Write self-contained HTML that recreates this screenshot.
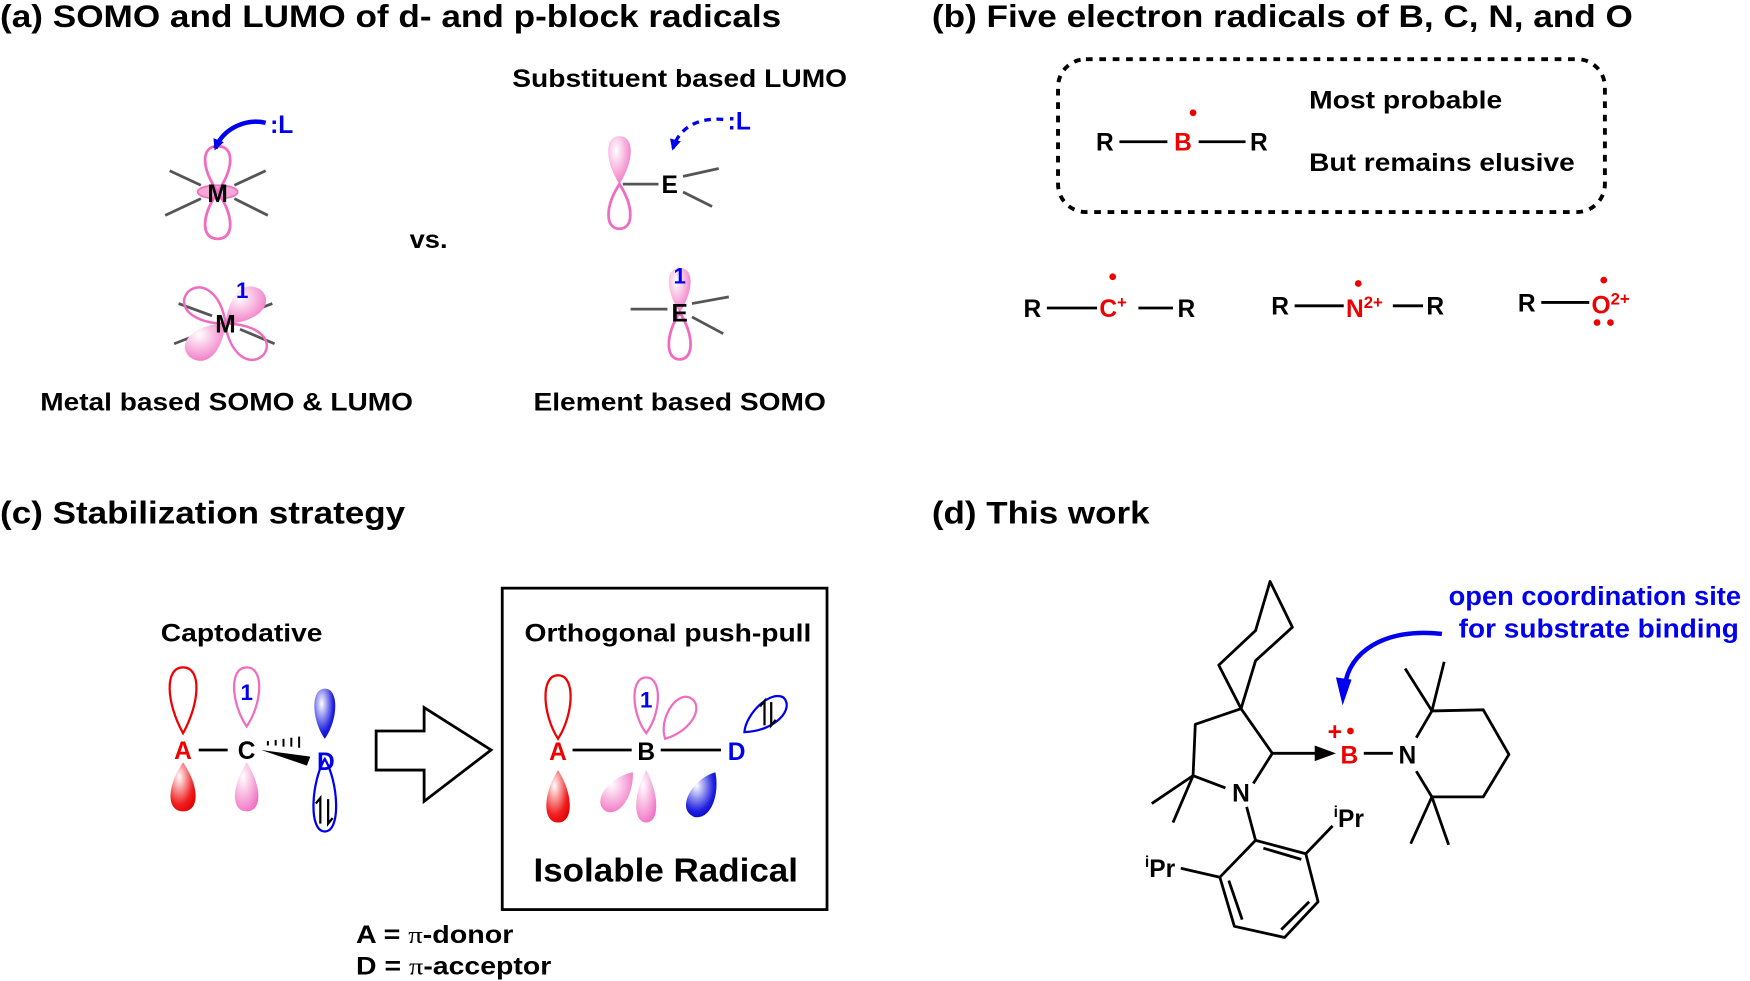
<!DOCTYPE html>
<html><head><meta charset="utf-8"><style>
html,body{margin:0;padding:0;background:#fff;}
svg{display:block;}
text{font-family:"Liberation Sans",Arial,sans-serif;font-weight:bold;}
</style></head><body>
<svg width="1750" height="981" viewBox="0 0 1568 879" xmlns="http://www.w3.org/2000/svg">
<defs>
<radialGradient id="pk" cx="0.35" cy="0.3" r="0.8"><stop offset="0" stop-color="#fff"/><stop offset="1" stop-color="#f06cc0"/></radialGradient>
<radialGradient id="rd" cx="0.35" cy="0.3" r="0.8"><stop offset="0" stop-color="#fff"/><stop offset="0.7" stop-color="#f02020"/><stop offset="1" stop-color="#e00000"/></radialGradient>
<radialGradient id="bl" cx="0.35" cy="0.3" r="0.8"><stop offset="0" stop-color="#fff"/><stop offset="0.7" stop-color="#2020e0"/><stop offset="1" stop-color="#0000c0"/></radialGradient>
<marker id="ah" markerWidth="10" markerHeight="10" refX="8" refY="5" orient="auto" markerUnits="userSpaceOnUse"><path d="M0,0 L10,5 L0,10z" fill="#0000ee"/></marker>
</defs>
<!-- titles -->
<text x="0" y="24" font-size="28" textLength="700" lengthAdjust="spacingAndGlyphs">(a) SOMO and LUMO of d- and p-block radicals</text>
<text x="835" y="24" font-size="28" textLength="628" lengthAdjust="spacingAndGlyphs">(b) Five electron radicals of B, C, N, and O</text>
<text x="0" y="469" font-size="28" textLength="363" lengthAdjust="spacingAndGlyphs">(c) Stabilization strategy</text>
<text x="835" y="469" font-size="28" textLength="195" lengthAdjust="spacingAndGlyphs">(d) This work</text>

<!-- panel a -->
<g stroke="#555" stroke-width="2.5">
<line x1="152" y1="153" x2="180" y2="166"/><line x1="238" y1="153" x2="210" y2="166"/>
<line x1="148" y1="193" x2="180" y2="178"/><line x1="240" y1="193" x2="210" y2="178"/>
</g>
<ellipse cx="195" cy="172" rx="18" ry="6" fill="#f7a6d8" stroke="#f06cc0" stroke-width="1.5"/>
<path d="M195,172 C180,150 180,131 195,131 C210,131 210,150 195,172 C180,194 180,214 195,214 C210,214 210,194 195,172z" fill="none" stroke="#f06cc0" stroke-width="2.5"/>
<text x="195" y="181" font-size="22" text-anchor="middle">M</text>
<path d="M238,110 C220,106 200,115 193,133" fill="none" stroke="#0000ee" stroke-width="4" marker-end="url(#ah)"/>
<text x="242" y="119" font-size="22" fill="#0000ee">:L</text>
<text x="384" y="222" font-size="22" text-anchor="middle" textLength="34" lengthAdjust="spacingAndGlyphs">vs.</text>
<text x="609" y="78" font-size="22" text-anchor="middle" textLength="300" lengthAdjust="spacingAndGlyphs">Substituent based LUMO</text>
<path d="M555,165 C542,145 541,122 555,122 C569,122 568,145 555,165z" fill="url(#pk)"/>
<path d="M555,165 C542,185 542,205 555,205 C568,205 568,185 555,165z" fill="none" stroke="#f06cc0" stroke-width="2.5"/>
<g stroke="#555" stroke-width="2.5"><line x1="558" y1="165" x2="590" y2="165"/><line x1="612" y1="158" x2="644" y2="151"/><line x1="612" y1="172" x2="638" y2="185"/></g>
<text x="600" y="173" font-size="22" text-anchor="middle">E</text>
<path d="M648,107 C625,105 608,115 603,133" fill="none" stroke="#0000ee" stroke-width="3" stroke-dasharray="6,5" marker-end="url(#ah)"/>
<text x="652" y="116" font-size="22" fill="#0000ee">:L</text>

<g stroke="#555" stroke-width="2.5">
<line x1="160" y1="272" x2="190" y2="283"/><line x1="244" y1="272" x2="215" y2="283"/>
<line x1="156" y1="308" x2="190" y2="295"/><line x1="246" y1="308" x2="215" y2="295"/>
</g>
<path d="M202,290 C205,263 220,250 234,260 C247,272 230,290 202,290z" fill="url(#pk)"/>
<path d="M202,290 C199,317 184,330 170,320 C157,308 174,290 202,290z" fill="url(#pk)"/>
<path d="M202,290 C173,290 158,275 168,262 C180,250 199,263 202,290z" fill="none" stroke="#f06cc0" stroke-width="2.2"/>
<path d="M202,290 C231,290 246,305 236,318 C224,330 205,317 202,290z" fill="none" stroke="#f06cc0" stroke-width="2.2"/>
<text x="202" y="298" font-size="22" text-anchor="middle">M</text>
<text x="217" y="267" font-size="20" fill="#0000ee" font-weight="normal" text-anchor="middle">1</text>
<g stroke="#555" stroke-width="2.5"><line x1="565" y1="277" x2="598" y2="277"/><line x1="620" y1="272" x2="653" y2="266"/><line x1="620" y1="284" x2="648" y2="299"/></g>
<path d="M609,280 C596,260 596,240 609,240 C622,240 622,260 609,280z" fill="url(#pk)"/>
<path d="M609,280 C596,300 596,322 609,322 C622,322 622,300 609,280z" fill="none" stroke="#f06cc0" stroke-width="2.5"/>
<text x="609" y="288" font-size="22" text-anchor="middle">E</text>
<text x="609" y="254" font-size="20" fill="#0000ee" font-weight="normal" text-anchor="middle">1</text>
<text x="36" y="368" font-size="22" textLength="334" lengthAdjust="spacingAndGlyphs">Metal based SOMO &amp; LUMO</text>
<text x="478" y="368" font-size="22" textLength="262" lengthAdjust="spacingAndGlyphs">Element based SOMO</text>

<!-- panel b -->
<rect x="948" y="53" width="490" height="137" rx="25" fill="none" stroke="#000" stroke-width="3.5" stroke-dasharray="6,6"/>
<text x="990" y="135" font-size="22" text-anchor="middle">R</text>
<line x1="1003" y1="127" x2="1046" y2="127" stroke="#000" stroke-width="2.5"/>
<text x="1060" y="135" font-size="22" text-anchor="middle" fill="#e00">B</text>
<circle cx="1069" cy="101" r="3" fill="#e00"/>
<line x1="1074" y1="127" x2="1116" y2="127" stroke="#000" stroke-width="2.5"/>
<text x="1128" y="135" font-size="22" text-anchor="middle">R</text>
<text x="1173" y="97" font-size="22" textLength="173" lengthAdjust="spacingAndGlyphs">Most probable</text>
<text x="1173" y="153" font-size="22" textLength="238" lengthAdjust="spacingAndGlyphs">But remains elusive</text>

<g font-size="22">
<text x="925" y="284" text-anchor="middle">R</text>
<line x1="938" y1="276" x2="983" y2="276" stroke="#000" stroke-width="2.5"/>
<text x="985" y="284" fill="#e00">C<tspan font-size="15" dy="-8">+</tspan></text>
<circle cx="997" cy="248" r="3" fill="#e00"/>
<line x1="1020" y1="276" x2="1051" y2="276" stroke="#000" stroke-width="2.5"/>
<text x="1063" y="284" text-anchor="middle">R</text>
<text x="1147" y="282" text-anchor="middle">R</text>
<line x1="1160" y1="274" x2="1204" y2="274" stroke="#000" stroke-width="2.5"/>
<text x="1206" y="284" fill="#e00">N<tspan font-size="15" dy="-8">2+</tspan></text>
<circle cx="1217" cy="254" r="3" fill="#e00"/>
<line x1="1248" y1="274" x2="1275" y2="274" stroke="#000" stroke-width="2.5"/>
<text x="1286" y="282" text-anchor="middle">R</text>
<text x="1368" y="279" text-anchor="middle">R</text>
<line x1="1381" y1="271" x2="1424" y2="271" stroke="#000" stroke-width="2.5"/>
<text x="1426" y="281" fill="#e00">O<tspan font-size="15" dy="-8">2+</tspan></text>
<circle cx="1437" cy="251" r="3" fill="#e00"/><circle cx="1431" cy="289" r="3" fill="#e00"/><circle cx="1443" cy="289" r="3" fill="#e00"/>
</g>

<!-- panel c -->
<text x="144" y="575" font-size="22" textLength="145" lengthAdjust="spacingAndGlyphs">Captodative</text>
<path d="M164,657 C149,630 147,598 164,598 C181,598 179,630 164,657z" fill="none" stroke="#e00" stroke-width="2"/>
<path d="M164,683 C149,705 149,727 164,727 C179,727 179,705 164,683z" fill="url(#rd)"/>
<path d="M221,651 C207,630 205,598 221,598 C237,598 235,630 221,651z" fill="none" stroke="#f06cc0" stroke-width="2"/>
<text x="221" y="627" font-size="20" fill="#0000ee" font-weight="normal" text-anchor="middle">1</text>
<path d="M221,683 C207,705 207,727 221,727 C235,727 235,705 221,683z" fill="url(#pk)"/>
<text x="164" y="680" font-size="22" text-anchor="middle" fill="#e00">A</text>
<line x1="178" y1="672" x2="204" y2="672" stroke="#000" stroke-width="2.5"/>
<text x="221" y="680" font-size="22" text-anchor="middle">C</text>
<g stroke="#000" stroke-width="1.8"><line x1="240" y1="664" x2="240" y2="668"/><line x1="247" y1="663" x2="247" y2="668"/><line x1="254" y1="662" x2="254" y2="669"/><line x1="261" y1="661" x2="261" y2="669"/><line x1="268" y1="660" x2="268" y2="670"/></g>
<path d="M234,672 L278,678 L275,686z" fill="#000"/>
<path d="M291,662 C279,645 278,617 291,617 C304,617 303,645 291,662z" fill="url(#bl)"/>
<text x="292" y="690" font-size="22" text-anchor="middle" fill="#0000ee">D</text>
<path d="M291,680 C279,700 276,745 291,745 C306,745 303,700 291,680z" fill="none" stroke="#0000ee" stroke-width="2"/>
<g stroke="#000" stroke-width="2" fill="none"><path d="M287,738 L287,715 L283,720"/><path d="M294,716 L294,738 L298,733"/></g>
<path d="M337,655 L380,655 L380,634 L440,672 L380,718 L380,690 L337,690z" fill="#fff" stroke="#000" stroke-width="2.5"/>
<rect x="450" y="527" width="291" height="288" fill="none" stroke="#000" stroke-width="2.5"/>
<text x="470" y="575" font-size="22" textLength="257" lengthAdjust="spacingAndGlyphs">Orthogonal push-pull</text>
<path d="M500,662 C486,640 484,605 500,605 C516,605 514,640 500,662z" fill="none" stroke="#e00" stroke-width="2"/>
<path d="M500,690 C486,712 486,737 500,737 C514,737 514,712 500,690z" fill="url(#rd)"/>
<text x="500" y="681" font-size="22" text-anchor="middle" fill="#e00">A</text>
<line x1="513" y1="672" x2="566" y2="672" stroke="#000" stroke-width="2.5"/>
<text x="579" y="681" font-size="22" text-anchor="middle">B</text>
<line x1="592" y1="672" x2="646" y2="672" stroke="#000" stroke-width="2.5"/>
<text x="660" y="681" font-size="22" text-anchor="middle" fill="#0000ee">D</text>
<path d="M579,657 C566,640 564,607 579,607 C594,607 592,640 579,657z" fill="none" stroke="#f06cc0" stroke-width="2"/>
<text x="579" y="634" font-size="20" fill="#0000ee" font-weight="normal" text-anchor="middle">1</text>
<path d="M596,662 C590,645 605,620 618,625 C632,632 620,655 596,662z" fill="none" stroke="#f06cc0" stroke-width="2"/>
<path d="M579,690 C567,712 567,737 579,737 C591,737 591,712 579,690z" fill="url(#pk)"/>
<path d="M567,692 C543,697 530,720 543,727 C556,732 568,712 567,692z" fill="url(#pk)"/>
<path d="M641,692 C620,698 605,725 622,732 C637,735 645,712 641,692z" fill="url(#bl)"/>
<path d="M667,656 C668,640 690,618 702,625 C712,635 695,655 667,656z" fill="none" stroke="#0000ee" stroke-width="2"/>
<g stroke="#000" stroke-width="2" fill="none"><path d="M685,650 L685,628 L681,633"/><path d="M691,629 L691,650 L695,645"/></g>
<text x="478" y="790" font-size="30" textLength="237" lengthAdjust="spacingAndGlyphs">Isolable Radical</text>
<text x="319" y="845" font-size="22" textLength="141" lengthAdjust="spacingAndGlyphs">A = <tspan font-family="Liberation Serif" font-weight="normal">π</tspan>-donor</text>
<text x="319" y="873" font-size="22" textLength="175" lengthAdjust="spacingAndGlyphs">D = <tspan font-family="Liberation Serif" font-weight="normal">π</tspan>-acceptor</text>

<!-- panel d -->
<g fill="none" stroke="#000" stroke-width="2.5" stroke-linejoin="round">
<path d="M1138,521 L1158,562 L1125,592 L1112,635 L1092,596 L1125,565 Z"/>
<path d="M1112,635 L1071,649 L1069,695 L1098,706"/>
<path d="M1123,702 L1140,675 L1112,635"/>
<path d="M1069,695 L1032,720 M1069,695 L1051,737"/>
<path d="M1117,723 L1125,753"/>
<path d="M1125,753 L1170,765 L1181,808 L1151,840 L1106,830 L1093,786 Z"/>
<path d="M1132,760 L1166,770 M1173,808 L1148,833 M1113,824 L1101,789"/>
<path d="M1170,765 L1194,740 M1093,786 L1058,778"/>
<path d="M1140,675 L1182,675"/>
<path d="M1222,675 L1248,675"/>
<path d="M1269,661 L1283,637 L1329,636 L1352,676 L1329,714 L1283,714 L1269,691"/>
<path d="M1283,637 L1259,599 M1283,637 L1294,593 M1283,714 L1264,756 M1283,714 L1298,757"/>
</g>
<path d="M1197,675 L1178,668 L1178,682z" fill="#000"/>
<text x="1112" y="718" font-size="22" font-weight="normal" text-anchor="middle">N</text>
<text x="1261" y="684" font-size="22" font-weight="normal" text-anchor="middle">N</text>
<text x="1209" y="684" font-size="22" text-anchor="middle" fill="#e00">B</text>
<text x="1196" y="663" font-size="22" font-weight="normal" text-anchor="middle" fill="#e00">+</text>
<circle cx="1210" cy="655" r="3" fill="#e00"/>
<text x="1195" y="741" font-size="22" font-weight="normal"><tspan font-size="14" dy="-9">i</tspan><tspan dy="9">Pr</tspan></text>
<text x="1053" y="786" font-size="22" font-weight="normal" text-anchor="end"><tspan font-size="14" dy="-9">i</tspan><tspan dy="9">Pr</tspan></text>
<path d="M1292,568 C1240,562 1208,585 1205,615" fill="none" stroke="#0000ee" stroke-width="4"/>
<path d="M1203,632 L1197,607 L1211,609z" fill="#0000ee"/>
<text x="1298" y="542" font-size="23" fill="#0000ee" textLength="262" lengthAdjust="spacingAndGlyphs">open coordination site</text>
<text x="1307" y="571" font-size="23" fill="#0000ee" textLength="251" lengthAdjust="spacingAndGlyphs">for substrate binding</text>
</svg>
</body></html>
